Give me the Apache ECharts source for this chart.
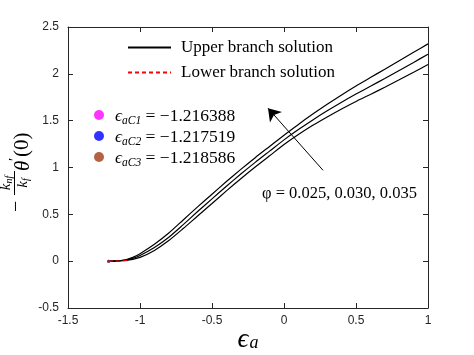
<!DOCTYPE html>
<html><head><meta charset="utf-8">
<script src="https://cdn.jsdelivr.net/npm/echarts@6/dist/echarts.min.js"></script>
<style>html,body{margin:0;padding:0;background:#fff}#c{width:474px;height:355px}</style>
</head><body><div id="c"></div>
<script>
// ---- data ----
const xTicks = [-1.5, -1, -0.5, 0, 0.5, 1];
const yTicks = [-0.5, 0, 0.5, 1, 1.5, 2, 2.5];
const phiLabel = 'φ = 0.025, 0.030, 0.035';
const critNames = ['C1', 'C2', 'C3'];
const critX = [-1.216388, -1.217519, -1.218586];
const critColors = ['#ff00ff', '#0000ff', '#a03c14'];
const xs = [-1.18, -1.15, -1.1, -1.05, -1.0, -0.9, -0.8, -0.7, -0.6, -0.5, -0.4, -0.3, -0.2, -0.1, 0, 0.1, 0.2, 0.3, 0.4, 0.5, 0.6, 0.7, 0.8, 0.9, 1.0];
const upperPhi025 = [0.001, 0.002, 0.008, 0.02, 0.04, 0.115, 0.22, 0.348, 0.482, 0.615, 0.75, 0.88, 1.005, 1.125, 1.245, 1.352, 1.45, 1.54, 1.625, 1.705, 1.78, 1.857, 1.936, 2.017, 2.10];
const upperPhi030 = [0.001, 0.003, 0.011, 0.03, 0.06, 0.145, 0.255, 0.39, 0.53, 0.665, 0.80, 0.93, 1.055, 1.175, 1.295, 1.405, 1.508, 1.605, 1.697, 1.784, 1.867, 1.951, 2.036, 2.122, 2.21];
const upperPhi035 = [0.001, 0.004, 0.015, 0.04, 0.08, 0.18, 0.30, 0.44, 0.58, 0.715, 0.85, 0.98, 1.105, 1.225, 1.345, 1.46, 1.57, 1.675, 1.775, 1.87, 1.96, 2.05, 2.14, 2.23, 2.32];
const lowerX = [-1.216388, -1.19, -1.16, -1.13, -1.10, -1.075];
const lowerY = [0, 0, 0.001, 0.003, 0.006, 0.009];
const arrowFrom = [0.271, 0.97];
const arrowTo = [-0.111, 1.633];

// ---- chart ----
const serif = "'Liberation Serif', 'DejaVu Serif', serif";
const axisColor = '#262626';
const chart = echarts.init(document.getElementById('c'), null, {renderer: 'canvas'});

function curve(ci, ys) {
  return [[critX[ci], 0]].concat(xs.map((x, j) => [x, ys[j]]));
}
const upperSets = [upperPhi025, upperPhi030, upperPhi035];
const series = upperSets.map((ys, i) => ({
  name: 'Upper branch solution', type: 'line', data: curve(i, ys),
  symbol: 'none', showSymbol: false, smooth: 0.25,
  lineStyle: {color: '#000', width: 1.2}, itemStyle: {color: '#000'},
  z: 3
}));
series[0].markLine = {
  silent: true, symbol: ['none', 'arrow'], symbolSize: 12,
  label: {show: false},
  lineStyle: {color: '#000', width: 1, type: 'solid'},
  itemStyle: {color: '#000'},
  data: [[{coord: arrowFrom}, {coord: arrowTo}]]
};
series.push({
  name: 'Lower branch solution', type: 'line',
  data: lowerX.map((x, i) => [x, lowerY[i]]),
  symbol: 'none', showSymbol: false, smooth: true,
  lineStyle: {color: '#ff0000', width: 1.2, type: [4, 3]}, itemStyle: {color: '#ff0000'},
  z: 4
});
critX.forEach((x, i) => series.push({
  name: critNames[i], type: 'scatter', data: [[x, 0]],
  symbol: 'circle', symbolSize: 3, itemStyle: {color: critColors[i]}, z: 5
}));
const critLabels = {C1: ['aC1', '−1.216388'], C2: ['aC2', '−1.217519'], C3: ['aC3', '−1.218586']};

const baseAxis = {
  axisLine: {show: true, onZero: false, lineStyle: {color: axisColor, width: 1}},
  axisTick: {show: true, inside: true, length: 5, lineStyle: {color: axisColor}},
  splitLine: {show: false}
};
const tickFont = {color: axisColor, fontSize: 12, fontFamily: "'Liberation Sans', Arial, sans-serif"};

function fracRich(sz, subSz, drop) {
  return {
    k: {fontSize: sz, fontFamily: serif, fontStyle: 'italic', fill: '#000', color: '#000', lineHeight: sz, verticalAlign: 'top'},
    s: {fontSize: subSz, fontFamily: serif, fontStyle: 'italic', fill: '#000', color: '#000', lineHeight: subSz, padding: [drop, 0, 0, 0], verticalAlign: 'top'}
  };
}

chart.setOption({
  animation: false,
  backgroundColor: '#fff',
  grid: {left: 68, right: 46, top: 27, bottom: 47, containLabel: false, outerBoundsMode: 'none'},
  xAxis: [
    Object.assign({}, baseAxis, {
      type: 'value', min: xTicks[0], max: xTicks[xTicks.length - 1], interval: 0.5, position: 'bottom',
      axisLabel: Object.assign({margin: 7}, tickFont),
      name: '{e|ϵ}{s|a}', nameLocation: 'middle', nameGap: 18, nameMoveOverlap: false,
      nameTextStyle: {verticalAlign: 'top', rich: {
        e: {fontSize: 27, fontFamily: serif, fontStyle: 'italic', color: '#000', lineHeight: 20, verticalAlign: 'top'},
        s: {fontSize: 18, fontFamily: serif, fontStyle: 'italic', color: '#000', lineHeight: 14, padding: [8, 0, 0, 1], verticalAlign: 'top'}
      }}
    }),
    Object.assign({}, baseAxis, {
      type: 'value', min: xTicks[0], max: xTicks[xTicks.length - 1], interval: 0.5, position: 'top',
      axisLabel: {show: false}
    })
  ],
  yAxis: [
    Object.assign({}, baseAxis, {
      type: 'value', min: yTicks[0], max: yTicks[yTicks.length - 1], interval: 0.5, position: 'left',
      axisLabel: Object.assign({margin: 9}, tickFont)
    }),
    Object.assign({}, baseAxis, {
      type: 'value', min: yTicks[0], max: yTicks[yTicks.length - 1], interval: 0.5, position: 'right',
      axisLabel: {show: false}
    })
  ],
  legend: [
    {
      data: ['Upper branch solution', 'Lower branch solution'],
      orient: 'vertical', left: 127, top: 39, padding: 0,
      itemWidth: 43, itemHeight: 14, itemGap: 8, selectedMode: false,
      itemStyle: {opacity: 0, borderWidth: 0},
      textStyle: {fontFamily: serif, fontSize: 17, color: '#000', padding: [0, 0, 0, 5]}
    },
    {
      data: critNames, icon: 'circle',
      orient: 'vertical', left: 94, top: 107, padding: 0,
      itemWidth: 10, itemHeight: 10, itemGap: 1, selectedMode: false,
      formatter: n => '{e|ϵ}{s|' + critLabels[n][0] + '}{t| = ' + critLabels[n][1] + '}',
      textStyle: {padding: [0, 0, 0, 6], rich: {
        e: {fontSize: 17.5, fontFamily: serif, fontStyle: 'italic', color: '#000', lineHeight: 16, verticalAlign: 'top'},
        s: {fontSize: 11.5, fontFamily: serif, fontStyle: 'italic', color: '#000', lineHeight: 10, padding: [8, 0, 0, 0], verticalAlign: 'top'},
        t: {fontSize: 17.5, fontFamily: serif, color: '#000', lineHeight: 16, verticalAlign: 'top'}
      }}
    }
  ],
  graphic: [
    {
      type: 'text', left: 262, top: 185,
      style: {text: phiLabel, fontSize: 16.5, fontFamily: serif, fill: '#000'}
    },
    {
      type: 'group', x: 17, y: 212, rotation: Math.PI / 2,
      children: [
        {type: 'text', x: 0, y: 0, style: {text: '−', fontSize: 20, fontFamily: serif, fill: '#000', align: 'left', verticalAlign: 'middle'}},
        {type: 'line', shape: {x1: 17, y1: -2.5, x2: 41, y2: -2.5}, style: {stroke: '#000', lineWidth: 1}},
        {type: 'text', x: 29, y: -3, style: {text: '{k|k}{s|nf}', align: 'center', verticalAlign: 'bottom', rich: fracRich(15, 10, 5)}},
        {type: 'text', x: 29, y: -1, style: {text: '{k|k}{s|f}', align: 'center', verticalAlign: 'top', rich: fracRich(15, 10, 5)}},
        {type: 'text', x: 41, y: 6, style: {text: 'θ', fontSize: 21, fontFamily: serif, fontStyle: 'italic', fill: '#000', align: 'left', verticalAlign: 'middle'}},
        {type: 'text', x: 51, y: -2, style: {text: '′', fontSize: 15, fontFamily: serif, fill: '#000', align: 'left', verticalAlign: 'middle'}},
        {type: 'text', x: 55, y: 5, style: {text: '(0)', fontSize: 21, fontFamily: serif, fill: '#000', align: 'left', verticalAlign: 'middle'}}
      ]
    }
  ],
  series: series
});
</script>
</body></html>
